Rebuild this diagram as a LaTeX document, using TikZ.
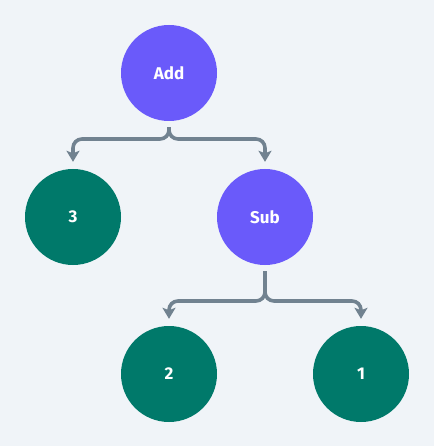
\documentclass[tikz,border=0pt]{standalone}
\usepackage{fontspec}
\setmainfont{Fira Sans}
\usetikzlibrary{arrows.meta}

\definecolor{bgcol}{HTML}{F0F4F8}
\definecolor{opcol}{HTML}{6A5AFA}
\definecolor{numcol}{HTML}{00796A}
\definecolor{linkcol}{HTML}{718290}

\begin{document}
\begin{tikzpicture}[x=1pt,y=-1pt,
  op/.style={circle,fill=opcol,minimum size=96pt,inner sep=0pt,text=white,font=\fontsize{17}{20}\selectfont\bfseries},
  num/.style={circle,fill=numcol,minimum size=96pt,inner sep=0pt,text=white,font=\fontsize{17}{20}\selectfont\bfseries},
  link/.style={draw=linkcol,line width=3.6pt,rounded corners=9pt,shorten <=6pt,shorten >=7pt,-{Stealth[length=11pt,width=13pt,inset=2.5pt]}}]
\fill[bgcol] (0,0) rectangle (434,446);
\useasboundingbox (0,0) rectangle (434,446);

\path (169,73)  node[op]  (Add) {Add};
\path (73,217)  node[num] (N3)  {3};
\path (265,217) node[op]  (Sub) {Sub};
\path (169,374) node[num] (N2)  {2};
\path (361,374) node[num] (N1)  {1};

\coordinate (addfork) at (169,139);
\coordinate (subfork) at (265,301);

\draw[link] (Add.south) -- (addfork) -| (N3.north);
\draw[link] (Add.south) -- (addfork) -| (Sub.north);

\draw[link] (Sub.south) -- (subfork) -| (N2.north);
\draw[link] (Sub.south) -- (subfork) -| (N1.north);
\end{tikzpicture}
\end{document}
